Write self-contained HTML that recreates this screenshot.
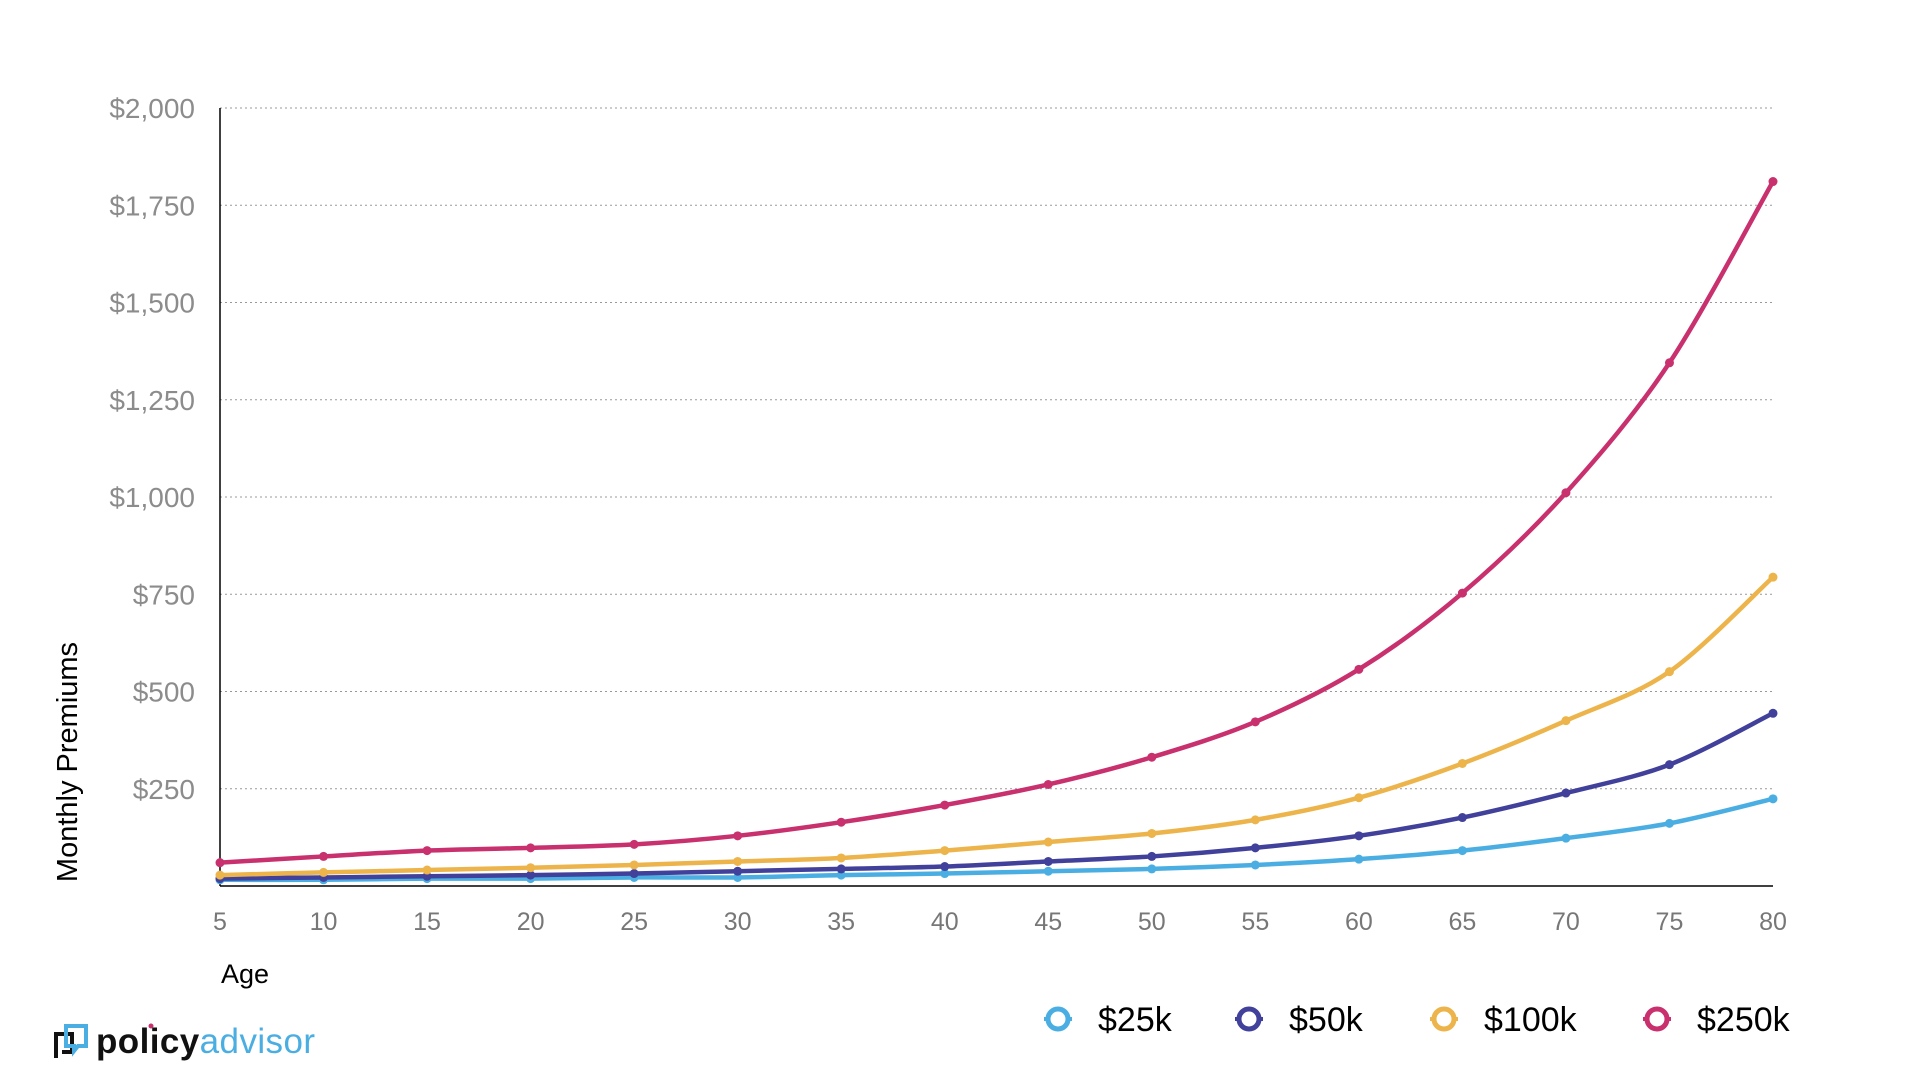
<!DOCTYPE html>
<html><head><meta charset="utf-8"><style>
html,body{margin:0;padding:0;background:#fff;width:1920px;height:1080px;overflow:hidden}
svg{display:block;font-family:"Liberation Sans",sans-serif}
</style></head><body>
<svg id="chart" width="1920" height="1080" viewBox="0 0 1920 1080" xmlns="http://www.w3.org/2000/svg">
<g id="grid"></g>
<g id="yticks"></g>
<g id="xticks"></g>
<line x1="220" y1="108" x2="220" y2="886" stroke="#000" stroke-width="1.5"/>
<line x1="220" y1="886" x2="1773" y2="886" stroke="#000" stroke-width="1.5"/>
<g id="series"></g>
<text transform="translate(77,762) rotate(-90)" text-anchor="middle" font-size="29" fill="#000">Monthly Premiums</text>
<text x="221" y="983" font-size="27" fill="#000">Age</text>
<g id="legend"></g>
<g>
<path d="M56 1058 V1034 h16 v18 h-10" fill="none" stroke="#111" stroke-width="4"/>
<path d="M66 1026 h20 v20 h-8 l-4 5 v-5 h-8 z" fill="none" stroke="#4aaee2" stroke-width="4"/>
<text x="96" y="1053" font-size="35" font-weight="bold" fill="#111" textLength="219">policy<tspan fill="#4aaee2" font-weight="normal">advisor</tspan></text>
<circle cx="151" cy="1026" r="2.5" fill="#c8306e"/>
</g>
</svg>
<script>
const ages=[5,10,15,20,25,30,35,40,45,50,55,60,65,70,75,80];
const s25k=[16,16,19,19,22,22,28,32,38,44,54,69,91,123,161,224];
const s50k=[19,22,25,28,32,38,44,50,63,76,98,129,176,239,312,444];
const s100k=[28,35,41,47,54,63,72,91,113,135,170,227,315,425,551,794];
const s250k=[60,76,91,98,107,129,164,208,261,331,422,557,753,1011,1345,1811];
const yTicks=[250,500,750,1000,1250,1500,1750,2000];
const yTickLabels=["$250","$500","$750","$1,000","$1,250","$1,500","$1,750","$2,000"];
const seriesNames=["$25k","$50k","$100k","$250k"];
const NS="http://www.w3.org/2000/svg";
const X=a=>220+(a-5)/75*1553;
const Y=v=>886-v/2000*778;
function mk(t,attrs,parent){const e=document.createElementNS(NS,t);for(const k in attrs)e.setAttribute(k,attrs[k]);parent.appendChild(e);return e;}
const grid=document.getElementById('grid'),yt=document.getElementById('yticks'),xt=document.getElementById('xticks');
yTicks.forEach((v,i)=>{
 const l=mk('line',{x1:220,x2:1773,y1:Y(v),y2:Y(v),stroke:'#999','stroke-width':1,'stroke-dasharray':'2,3'},grid);
 
 
 const t=mk('text',{x:195,y:Y(v)+10,'text-anchor':'end','font-size':28,fill:'#8c8c8c'},yt);
 t.textContent=yTickLabels[i];
 
 
});
ages.forEach(a=>{
 const t=mk('text',{x:X(a),y:930,'text-anchor':'middle','font-size':25,fill:'#777'},xt);
 t.textContent=a;
 
 
});
const colors=["#4aaee2","#41409a","#ecb44a","#c8306e"];
const data=[s25k,s50k,s100k,s250k];
const sg=document.getElementById('series');
function pathFor(pts){let d=`M${pts[0][0]},${pts[0][1]}`;for(let i=0;i<pts.length-1;i++){const p0=pts[i-1]||pts[i],p1=pts[i],p2=pts[i+1],p3=pts[i+2]||p2;const t=0.16;d+=` C${p1[0]+(p2[0]-p0[0])*t},${p1[1]+(p2[1]-p0[1])*t} ${p2[0]-(p3[0]-p1[0])*t},${p2[1]-(p3[1]-p1[1])*t} ${p2[0]},${p2[1]}`;}return d;}
data.forEach((vals,si)=>{
 const g=mk('g',{},sg);
 
 
 const pts=vals.map((v,i)=>[X(ages[i]),Y(v)]);
 const p=mk('path',{d:pathFor(pts),fill:'none',stroke:colors[si],'stroke-width':4.5},g);
 
 
 pts.forEach(pt=>{const c=mk('circle',{cx:pt[0],cy:pt[1],r:4.5,fill:colors[si]},g);
  
  });
});
const lg=document.getElementById('legend');
const lx=[1058,1249,1444,1657];
seriesNames.forEach((n,i)=>{
 const g=mk('g',{},lg);
 
 
 mk('line',{x1:lx[i]-14,x2:lx[i]+14,y1:1019,y2:1019,stroke:colors[i],'stroke-width':4},g);
 mk('circle',{cx:lx[i],cy:1019,r:10,fill:'#fff',stroke:colors[i],'stroke-width':5},g);
 const t=mk('text',{x:lx[i]+40,y:1031,'font-size':34,fill:'#000'},g);
 t.textContent=n;
});
</script>
</body></html>
